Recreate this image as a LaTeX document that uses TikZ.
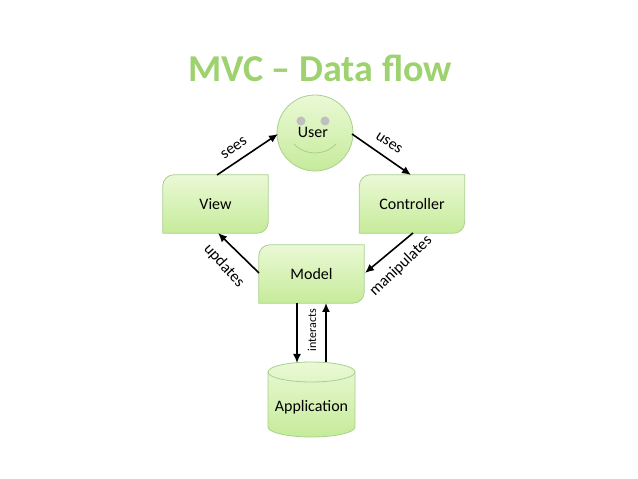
\documentclass[tikz,border=0pt]{standalone}
\usepackage{fontspec}
\setmainfont{Carlito}
\usetikzlibrary{arrows.meta}
\definecolor{gbd}{HTML}{A9D08E}
\definecolor{gtop}{HTML}{EAF9D6}
\definecolor{gbot}{HTML}{C6EB9A}
\definecolor{ttl}{HTML}{9DD26E}
\tikzset{
  sh/.style={draw=gbd,line width=0.8pt,top color=gtop,bottom color=gbot},
  bx/.style={minimum width=105pt,minimum height=58pt,inner sep=0pt,font=\fontsize{16}{18}\selectfont},
  ar/.style={-{Latex[length=9pt,width=8pt]},line width=1.6pt},
  lb/.style={font=\fontsize{16}{18}\selectfont,inner sep=1pt}
}
\newcommand{\snipbox}[1]{\path[sh] (#1.south west) -- ([yshift=-11pt]#1.north west) arc[start angle=180,end angle=90,radius=11pt] -- (#1.north east) -- ([yshift=11pt]#1.south east) arc[start angle=0,end angle=-90,radius=11pt] -- cycle;}
\begin{document}
\begin{tikzpicture}[x=1pt,y=1pt]
\useasboundingbox (0,0) rectangle (638,479);
\node[font=\fontsize{38}{42}\selectfont\bfseries,text=ttl] (title) at (320,411) {MVC – Data flow};
% user
\node[circle,sh,minimum size=76pt,inner sep=0pt] (user) at (315,346) {};
\fill[gray!50] (301,358) circle (4.5);
\fill[gray!50] (325,358) circle (4.5);
\draw[gbd,line width=0.8pt] (294,335) .. controls (305,323) and (325,323) .. (336,335);
\node[lb] at (313,347) {User};
% boxes
\node[bx] (view) at (215.5,275) {};
\node[bx] (ctrl) at (412,275) {};
\node[bx] (model) at (311.5,205) {};
\snipbox{view}\snipbox{ctrl}\snipbox{model}
\node[bx] at (view) {View};
\node[bx] at (ctrl) {Controller};
\node[bx] at (model) {Model};
% application
\node[minimum width=87pt,minimum height=75pt,inner sep=0pt] (app) at (311.5,80) {};
\path[sh] (268,107) -- (268,52) arc[start angle=180,end angle=360,x radius=43.5,y radius=10] -- (355,107) arc[start angle=0,end angle=180,x radius=43.5,y radius=10] -- cycle;
\draw[gbd,line width=0.8pt] (268,107) arc[start angle=180,end angle=360,x radius=43.5,y radius=10];
\node[lb] at (311.5,72) {Application};
% arrows
\coordinate (s1) at (217,304); \coordinate (s2) at (278,345);
\draw[ar] (s1) -- (s2);
\coordinate (u1) at (352,345); \coordinate (u2) at (411,304);
\draw[ar] (u1) -- (u2);
\coordinate (d1) at (259,206); \coordinate (d2) at (218,246);
\draw[ar] (d1) -- (d2);
\coordinate (m1) at (413,246); \coordinate (m2) at (365,206);
\draw[ar] (m1) -- (m2);
\coordinate (i1) at (297,176); \coordinate (i2) at (297,116);
\draw[ar] (i1) -- (i2);
\coordinate (j1) at (326,117); \coordinate (j2) at (326,176);
\draw[ar] (j1) -- (j2);
\node[lb,rotate=34] at (234,331) {sees};
\node[lb,rotate=-34] at (389,336) {uses};
\node[lb,rotate=-48] at (224,213) {updates};
\node[lb,rotate=44] at (401,213) {manipulates};
\node[lb,rotate=90,font=\fontsize{12}{14}\selectfont] at (312,149) {interacts};
\end{tikzpicture}
\end{document}
